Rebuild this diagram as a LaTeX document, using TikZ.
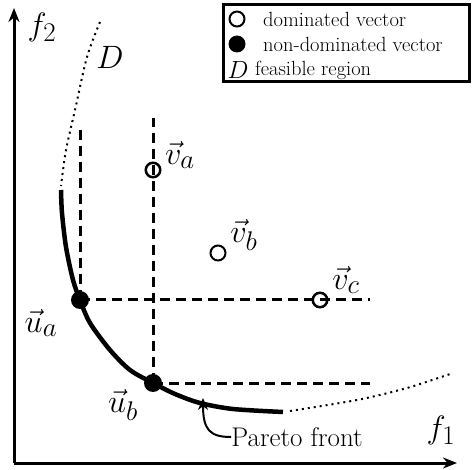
\documentclass[tikz,border=0pt]{standalone}
\usepackage{graphicx}
\usetikzlibrary{arrows.meta}
\newcommand{\biglab}[1]{\scalebox{1.3}{\fontsize{24.88}{26}\selectfont #1}}
\newcommand{\vlab}[2]{\biglab{$\vec{#1}_{#2}$}}
\begin{document}
\begin{tikzpicture}[x=1pt,y=-1pt,
  axis/.style={line width=3pt,-{Stealth[length=14pt,width=11pt]}},
  front/.style={line width=4.5pt},
  dotcurve/.style={line width=2pt,dash pattern=on 2pt off 4pt},
  dashline/.style={line width=3pt,dash pattern=on 10pt off 6pt},
  opendot/.style={circle,draw,line width=2pt,fill=white,minimum size=15pt,inner sep=0pt},
  filldot/.style={circle,fill=black,minimum size=18pt,inner sep=0pt},
  mlabel/.style={inner sep=0pt},
  legtext/.style={inner sep=0pt,anchor=west,font=\fontsize{20.5}{22}\selectfont},
]
\useasboundingbox (0,0) rectangle (474,470);
% axes
\coordinate (O) at (14,463);
\coordinate (ytop) at (14,8);
\coordinate (xend) at (457,463);
\draw[axis] (O) -- (ytop);
\draw[axis] (O) -- (xend);
\node[mlabel] (f2) at (42,27) {\biglab{$f_2$}};
\node[mlabel] (f1) at (441,430) {\biglab{$f_1$}};
\node[mlabel] (D) at (110,57) {\biglab{$D$}};
% curve
\draw[dotcurve] plot[smooth] coordinates {(100,22) (87,57) (75,110) (66,150) (61,186)};
\draw[front] plot[smooth] coordinates {(61,190) (62,213) (66,247) (73,280) (80,300) (90,323) (110,350) (130,370) (153,383) (175,394) (200,403) (233,409) (283,412)};
\draw[dotcurve] plot[smooth] coordinates {(290,411) (357,400) (407,388) (453,373)};
% points
\node[filldot] (ua) at (80,300) {};
\node[filldot] (ub) at (153,383) {};
\node[opendot] (va) at (153,170) {};
\node[opendot] (vb) at (218,253) {};
\node[opendot] (vc) at (320,300) {};
% dashed lines
\coordinate (uatop) at (80,128);
\coordinate (uaright) at (370,300);
\coordinate (vtop) at (153,118);
\coordinate (ubright) at (370,383);
\draw[dashline] (ua.center) -- (uatop);
\draw[dashline] (ua.center) -- (uaright);
\draw[dashline] (ub.center) -- (vtop);
\draw[dashline] (ub.center) -- (ubright);
\draw[line width=2pt] (va) circle[radius=7pt];
\draw[line width=2pt] (vc) circle[radius=7pt];
% labels
\node[mlabel] (lva) at (180,155) {\vlab{v}{a}};
\node[mlabel] (lvb) at (244,235) {\vlab{v}{b}};
\node[mlabel] (lvc) at (346,280) {\vlab{v}{c}};
\node[mlabel] (lua) at (41,323) {\vlab{u}{a}};
\node[mlabel] (lub) at (123,405) {\vlab{u}{b}};
% pareto
\node[inner sep=0pt,font=\fontsize{27}{29}\selectfont] (pf) at (297,437) {Pareto front};
\coordinate (pftip) at (203,398);
\draw[line width=2pt,-{Stealth[length=12pt,width=10pt]}] (pf.west) .. controls (210,437) and (203,430) .. (pftip);
% legend
\node[draw,line width=3pt,minimum width=246pt,minimum height=77pt,inner sep=0pt] (leg) at (346,43.5) {};
\node[circle,draw,line width=2pt,minimum size=15pt,inner sep=0pt] (lo) at (237,19) {};
\node[circle,fill=black,minimum size=17pt,inner sep=0pt] (lf) at (237,44) {};
\node[inner sep=0pt,font=\fontsize{23}{25}\selectfont] (lD) at (238,70) {$D$};
\node[legtext] (t1) at (263,19) {dominated vector};
\node[legtext] (t2) at (263,44) {non-dominated vector};
\node[legtext] (t3) at (255,70) {feasible region};
\end{tikzpicture}
\end{document}
